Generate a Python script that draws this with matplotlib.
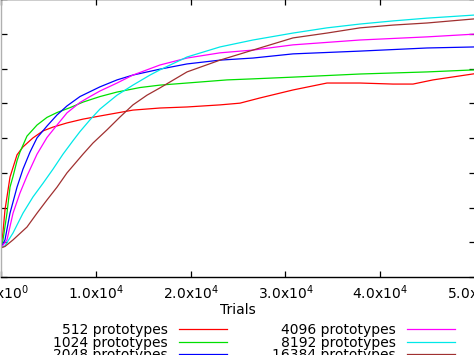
import matplotlib
matplotlib.use("Agg")
import matplotlib.pyplot as plt
from matplotlib.ticker import FixedLocator, FuncFormatter

# ---- data ----
labels = ["512 prototypes", "1024 prototypes", "2048 prototypes",
          "4096 prototypes", "8192 prototypes", "16384 prototypes"]
colors = ["#ff0000", "#00e000", "#0000ff", "#ff00ff", "#00e8e8", "#a03030"]

x_512 = [0, 211, 420, 950, 1690, 2320, 3380, 4430, 5490, 6960, 8650, 10440, 13920, 16770,
         19620, 23100, 25210, 27320, 30800, 34390, 37870, 41350, 43460, 45570, 50000]
y_512 = [8.4, 13.0, 19.3, 28.8, 35.2, 37.5, 40.1, 42.1, 43.2, 44.4, 45.5, 46.4, 48.1, 48.7,
         49.0, 49.6, 50.1, 51.6, 53.9, 55.9, 55.9, 55.6, 55.6, 56.8, 58.6]

x_1024 = [0, 211, 630, 950, 1270, 1690, 2000, 2740, 3800, 4850, 5910, 7280, 8650, 10440,
          12240, 14660, 16770, 19620, 23840, 26580, 30800, 37870, 44940, 50000]
y_1024 = [8.4, 10.7, 18.4, 25.9, 29.0, 33.5, 36.0, 40.6, 43.8, 46.0, 47.4, 48.8, 50.4, 52.0,
          53.3, 54.6, 55.3, 55.9, 56.8, 57.1, 57.6, 58.5, 59.1, 59.7]

x_2048 = [0, 420, 950, 1690, 2320, 3060, 3800, 4850, 5910, 6960, 8330, 10440, 12240,
          13920, 16770, 19620, 23100, 26580, 30800, 37870, 44940, 50000]
y_2048 = [8.4, 10.7, 18.4, 25.9, 31.1, 36.0, 40.1, 43.5, 46.7, 49.3, 52.0, 54.8, 56.8,
          58.2, 59.9, 61.4, 62.5, 63.1, 64.3, 65.1, 66.0, 66.3]

x_4096 = [0, 630, 1270, 2000, 2740, 3800, 4850, 5910, 6960, 8330, 9390, 10440, 12240,
          13920, 16770, 19620, 23100, 26580, 30800, 37870, 44940, 50000]
y_4096 = [8.4, 10.7, 18.4, 24.2, 29.1, 35.4, 40.2, 43.8, 47.3, 50.3, 52.0, 53.6, 55.9,
          58.2, 61.1, 63.1, 64.6, 65.4, 66.9, 68.3, 69.2, 70.0]

x_8192 = [0, 420, 1270, 2320, 3380, 4430, 5490, 6540, 7600, 8330, 9390, 10440, 12240,
          13920, 15720, 16770, 19620, 23100, 26580, 30800, 34390, 37870, 41350, 44940, 50000]
y_8192 = [8.4, 9.0, 12.7, 18.4, 23.1, 27.0, 31.1, 35.4, 39.3, 41.9, 45.3, 48.4, 52.4,
          55.3, 58.2, 59.7, 63.4, 66.3, 68.3, 70.3, 71.8, 72.9, 73.8, 74.6, 75.5]

x_16384 = [0, 420, 1270, 2740, 3800, 4850, 5910, 6960, 8650, 9700, 11180, 12550, 13920,
           15400, 16770, 19620, 23100, 26580, 30800, 34390, 37870, 41350, 44940, 50000]
y_16384 = [8.4, 8.8, 10.7, 14.4, 18.4, 22.2, 25.9, 30.0, 35.4, 38.6, 42.4, 46.1, 49.6,
           52.4, 54.5, 59.1, 62.5, 65.4, 68.9, 70.3, 71.8, 72.6, 73.2, 74.4]

xticks = [0, 10000, 20000, 30000, 40000, 50000]
xtick_labels = [r"0.0x10$^{0}$", r"1.0x10$^{4}$", r"2.0x10$^{4}$",
                r"3.0x10$^{4}$", r"4.0x10$^{4}$", r"5.0x10$^{4}$"]
yticks = [0, 10, 20, 30, 40, 50, 60, 70, 80]

series = [(x_512, y_512), (x_1024, y_1024), (x_2048, y_2048),
          (x_4096, y_4096), (x_8192, y_8192), (x_16384, y_16384)]

# ---- figure ----
plt.rcParams["font.family"] = ["DejaVu Sans"]
W, H = 474, 355
fig = plt.figure(figsize=(W / 100, H / 100), dpi=100)
ax = fig.add_axes([1 / W, 78 / H, 474 / W, 277.6 / H])

lines = []
for (xs, ys), c, lab in zip(series, colors, labels):
    ln, = ax.plot(xs, ys, color=c, lw=0.9, label=lab)
    lines.append(ln)

ax.set_xlim(0, 50000)
ax.set_ylim(0, 80)
ax.xaxis.set_major_locator(FixedLocator(xticks))
ax.xaxis.set_major_formatter(FuncFormatter(
    lambda v, p: xtick_labels[xticks.index(int(round(v)))] if int(round(v)) in xticks else ""))
ax.set_yticks(yticks)
ax.tick_params(direction="in", length=4.5, width=0.9, top=True, right=True,
               labelsize=10, pad=4.5)
for s in ax.spines.values():
    s.set_linewidth(1.0)
ax.spines["left"].set_color("#b0b0b0")
ax.set_xlabel("Trials", fontsize=10, labelpad=0.5)

fs = 10
common = dict(frameon=False, markerfirst=False, fontsize=fs, borderpad=0,
              borderaxespad=0, handlelength=3.45, handletextpad=0.8,
              labelspacing=-0.11, loc="upper right")
top = 1 - 323.3 / H
leg1 = fig.legend(lines[:3], labels[:3], bbox_to_anchor=(227 / W, top), **common)
leg2 = fig.legend(lines[3:], labels[3:], bbox_to_anchor=(455 / W, top), **common)

fig.savefig("out.png", dpi=100)
